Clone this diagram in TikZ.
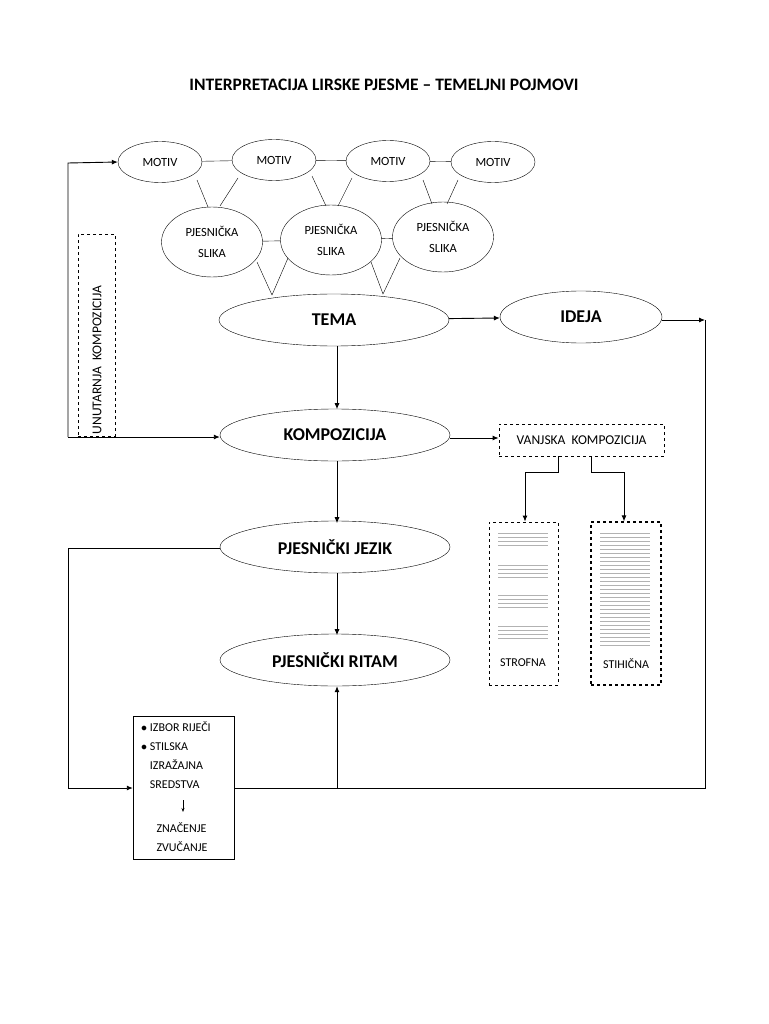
\documentclass[tikz,border=0pt]{standalone}
\usepackage{fontspec}
\setmainfont{Carlito}
\usetikzlibrary{arrows.meta,shapes.geometric}
\tikzset{
  el/.style={draw, ellipse, inner sep=0pt, align=center},
  motiv/.style={el, minimum width=84pt, minimum height=41pt, font=\fontsize{12.5}{14}\selectfont},
  slika/.style={el, minimum width=101pt, minimum height=70pt, font=\fontsize{12.5}{21}\selectfont},
  big/.style={el, minimum width=230pt, minimum height=52pt, font=\fontsize{18}{20}\selectfont\bfseries},
  arr/.style={-{Latex[length=6pt,width=5pt]}, line width=0.9pt},
  dbox/.style={draw, dashed, line width=0.8pt},
  thin/.style={gray!60, line width=0.4pt}
}
\begin{document}
\begin{tikzpicture}[x=1pt,y=-1pt]
\useasboundingbox (0,0) rectangle (768,1024);
% title
\node[font=\fontsize{17.5}{20}\selectfont\bfseries] (title) at (384,85) {INTERPRETACIJA LIRSKE PJESME -- TEMELJNI POJMOVI};

% motivi i slike
\node[motiv] (m1) at (160,162) {MOTIV};
\node[motiv] (m2) at (274,160) {MOTIV};
\node[motiv] (m3) at (388,161) {MOTIV};
\node[motiv] (m4) at (493,162) {MOTIV};
\node[slika] (s1) at (212,242) {PJESNIČKA\\SLIKA};
\node[slika] (s2) at (331,240) {PJESNIČKA\\SLIKA};
\node[slika] (s3) at (443,237) {PJESNIČKA\\SLIKA};
\draw (m1) -- (m2) (m2) -- (m3) (m3) -- (m4);
\draw (s1) -- (s2) (s2) -- (s3);
\draw (197,180) -- (208,207) (238,178) -- (220,206);
\draw (312,176) -- (326,206) (352,178) -- (338,206);
\draw (423,180) -- (432,204) (458,180) -- (447,204);

% glavni pojmovi
\node[big] (tema) at (334,320) {TEMA};
\node[big, minimum width=162pt] (ideja) at (581,317) {IDEJA};
\node[big] (komp) at (335,435) {KOMPOZICIJA};
\node[big] (jezik) at (335,547) {PJESNIČKI JEZIK};
\node[big] (ritam) at (335,660) {PJESNIČKI RITAM};
\draw (257,262) -- (272,295) -- (288,258);
\draw (371,262) -- (383,294) -- (400,258);

\draw[arr] (tema) -- (ideja);
\draw[arr] (tema.south) ++(3,0) -- ++(0,63);
\draw[arr] (komp.south) ++(2,0) -- ++(0,62);
\draw[arr] (jezik.south) ++(2,0) -- ++(0,62);

% unutarnja kompozicija
\node[dbox, minimum width=37pt, minimum height=202pt] (unut) at (96.5,335) {};
\node[rotate=90, font=\fontsize{13.5}{15}\selectfont] at (97,360) {UNUTARNJA\ \ KOMPOZICIJA};
\coordinate (lk) at (68,437);
\draw[arr] (lk) -- (68,163) -- (m1.west);
\draw[arr] (lk) -- (komp.west |- lk);

% vanjska kompozicija
\node[dbox, minimum width=165pt, minimum height=32pt, font=\fontsize{13.5}{15}\selectfont] (vanj) at (581.5,440) {VANJSKA\ \ KOMPOZICIJA};
\draw[arr] (komp.east |- 0,438) -- (vanj.west |- 0,438);
\node[dbox, minimum width=69pt, minimum height=163pt] (strof) at (523.5,603.5) {};
\node[dbox, line width=1.2pt, minimum width=70pt, minimum height=163pt] (stih) at (626,603.5) {};
\node[font=\fontsize{12}{14}\selectfont] (strofL) at (523,663) {STROFNA};
\node[font=\fontsize{12}{14}\selectfont] (stihL) at (626,664) {STIHIČNA};
\draw[arr] (558,456) -- (558,472) -- (525,472) -- (strof.north -| 525,0);
\draw[arr] (591,456) -- (591,472) -- (624,472) -- (stih.north -| 624,0);
\foreach \y in {533,565,595,626}
  \foreach \d in {0,4,8,12}
    \draw[thin] (498,\y+\d) -- (548,\y+\d);
\foreach \y in {533,537,...,645}
  \draw[thin] (600,\y) -- (650,\y);

% jezik - okvir
\node[draw, minimum width=101pt, minimum height=143pt] (okvir) at (183.5,787.5) {};
\node[anchor=north west, align=left, font=\fontsize{12}{19}\selectfont, inner sep=0pt] (okvirT) at (141,721)
  {$\bullet$ IZBOR RIJEČI\\$\bullet$ STILSKA\\\phantom{$\bullet$} IZRAŽAJNA\\\phantom{$\bullet$} SREDSTVA};
\node[font=\fontsize{12}{19}\selectfont, align=left] (znac) at (182,837) {ZNAČENJE\\ZVUČANJE};
\draw[-{Stealth[length=4pt]}, line width=0.9pt] (183,800) -- (183,812);
\coordinate (lj) at (68,788);
\draw (jezik.west |- 0,548) -- (68,548) -- (lj);
\draw[arr] (lj) -- (okvir.west |- lj);

% desna petlja
\coordinate (dk) at (705,320);
\draw[arr] (ideja.east |- dk) -- (dk);
\draw (dk) -- (705,788) -- (okvir.east |- 0,788);
\draw[arr] (337,788) -- (ritam.south -| 337,0);
\end{tikzpicture}
\end{document}
